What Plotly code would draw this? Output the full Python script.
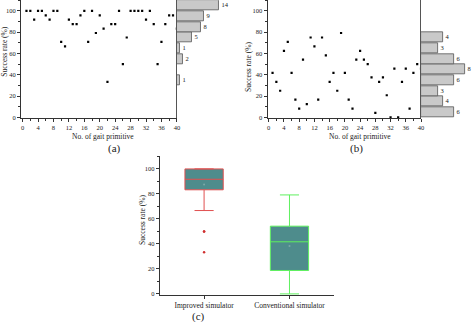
import numpy as np
import plotly.graph_objects as go

W, H = 474, 322

# ---------------- data ----------------
primitive_no = list(range(1, 41))
improved_rate = [100, 100, 91.7, 100, 100, 95.8, 91.7, 100, 100, 70.8,
                 66.7, 91.7, 87.5, 87.5, 95.8, 100, 70.8, 100, 79.2, 95.8,
                 83.3, 33.3, 87.5, 87.5, 100, 50, 75, 100, 100, 100,
                 100, 91.7, 100, 87.5, 50, 70.8, 87.5, 95.8, 95.8, 83.3]
conventional_rate = [41.7, 33.3, 25, 62.5, 70.8, 41.7, 16.7, 8.3, 54.2, 12.5,
                     75, 66.7, 16.7, 75, 58.3, 33.3, 41.7, 25, 79.2, 41.7,
                     16.7, 8.3, 54.2, 62.5, 54.2, 50, 37.5, 4.2, 33.3, 37.5,
                     20.8, 0, 45.8, 0, 33.3, 45.8, 8.3, 41.7, 50, 45.8]
bin_edges = [0, 10, 20, 30, 40, 50, 60, 70, 80, 90, 100, 110]
x_ticks = list(range(0, 41, 4))
y_ticks = list(range(0, 101, 20))
categories = ["Improved simulator", "Conventional simulator"]

# ---------------- helpers ----------------
def fx(px):
    return px / W

def fy(py):
    return 1 - py / H

FONT = "Liberation Serif"
AX = "#333333"
TICKF = dict(family=FONT, size=6.5, color="#222")

fig = go.Figure()

# scatter (a)
fig.add_trace(go.Scatter(x=primitive_no, y=improved_rate, mode="markers",
                         marker=dict(symbol="square", size=2.2, color="black"),
                         xaxis="x", yaxis="y", showlegend=False))
# scatter (b)
fig.add_trace(go.Scatter(x=primitive_no, y=conventional_rate, mode="markers",
                         marker=dict(symbol="square", size=2.2, color="black"),
                         xaxis="x3", yaxis="y3", showlegend=False))

# histograms
def hist_trace(values, xa, ya):
    counts, edges = np.histogram(values, bins=bin_edges)
    centers = [(edges[i] + edges[i + 1]) / 2 for i in range(len(counts))]
    ys = [c for c, n in zip(centers, counts) if n > 0]
    xs = [int(n) for n in counts if n > 0]
    return go.Bar(orientation="h", y=ys, x=xs, width=9.4,
                  marker=dict(color="#c9c9c9", line=dict(color="#555", width=0.8)),
                  text=[str(v) for v in xs], textposition="outside",
                  textfont=dict(family=FONT, size=6.5, color="#222"),
                  cliponaxis=False, xaxis=xa, yaxis=ya, showlegend=False)

fig.add_trace(hist_trace(improved_rate, "x2", "y2"))
fig.add_trace(hist_trace(conventional_rate, "x4", "y4"))

# box plots (c)
teal = "#4e8c8c"
fig.add_trace(go.Box(y=improved_rate, x=[categories[0]] * len(improved_rate),
                     fillcolor=teal, line=dict(color="#e05050", width=1),
                     marker=dict(color="#d03030", size=2.5),
                     boxpoints="outliers", whiskerwidth=0.5,
                     xaxis="x5", yaxis="y5", showlegend=False))
fig.add_trace(go.Box(y=conventional_rate, x=[categories[1]] * len(conventional_rate),
                     fillcolor=teal, line=dict(color="#5ef05e", width=1),
                     marker=dict(color="#5ef05e", size=2.5),
                     boxpoints="outliers", whiskerwidth=0.5,
                     xaxis="x5", yaxis="y5", showlegend=False))
# mean markers
fig.add_trace(go.Scatter(x=categories, y=[np.mean(improved_rate), np.mean(conventional_rate)],
                         mode="markers", marker=dict(size=2, color="#7aa8a8"),
                         xaxis="x5", yaxis="y5", showlegend=False, hoverinfo="skip"))

common_x = dict(showline=True, linecolor=AX, linewidth=1, ticks="outside", ticklen=3,
                tickcolor=AX, tickwidth=0.8, tickfont=TICKF, showgrid=False, zeroline=False,
                fixedrange=True)
common_y = dict(showline=True, linecolor=AX, linewidth=1, ticks="outside", ticklen=3,
                tickcolor=AX, tickwidth=0.8, tickfont=TICKF, showgrid=False, zeroline=False,
                fixedrange=True, range=[-1, 110], tickvals=y_ticks,
                minor=dict(ticks="outside", ticklen=2, dtick=10, tickcolor=AX, showgrid=False))

sc_y_dom = [fy(119.2), fy(0.2)]

layout = dict(
    width=W, height=H, margin=dict(l=0, r=0, t=0, b=0),
    paper_bgcolor="white", plot_bgcolor="white",
    font=dict(family=FONT, color="#222"),
    bargap=0,
    xaxis=dict(common_x, domain=[fx(21.2), fx(178)], range=[-0.4, 40], tickvals=x_ticks,
               minor=dict(ticks="outside", ticklen=2, dtick=2, tickcolor=AX, showgrid=False),
               anchor="y"),
    yaxis=dict(common_y, domain=sc_y_dom, anchor="x"),
    xaxis2=dict(domain=[fx(178), fx(226)], range=[0, 16], visible=False, anchor="y2",
                fixedrange=True),
    yaxis2=dict(domain=sc_y_dom, range=[-1, 110], showline=True, linecolor="#555", linewidth=1,
                showticklabels=False, ticks="", showgrid=False, zeroline=False, anchor="x2",
                fixedrange=True),
    xaxis3=dict(common_x, domain=[fx(269.3), fx(423.7)], range=[-0.3, 40], tickvals=x_ticks,
                minor=dict(ticks="outside", ticklen=2, dtick=2, tickcolor=AX, showgrid=False),
                anchor="y3"),
    yaxis3=dict(common_y, domain=sc_y_dom, anchor="x3"),
    xaxis4=dict(domain=[fx(423.7), fx(474)], range=[0, 9], visible=False, anchor="y4",
                fixedrange=True),
    yaxis4=dict(domain=sc_y_dom, range=[-1, 110], showline=True, linecolor="#555", linewidth=1,
                showticklabels=False, ticks="", showgrid=False, zeroline=False, anchor="x4",
                fixedrange=True),
    xaxis5=dict(common_x, domain=[fx(160.7), fx(336)], type="category", range=[-0.52, 1.52],
                categoryorder="array", categoryarray=categories,
                tickfont=dict(family=FONT, size=7.5, color="#222"), anchor="y5"),
    yaxis5=dict(common_y, domain=[fy(297), fy(157.4)], anchor="x5"),
    boxgap=0.36,
)
fig.update_layout(**layout)

def ann(text, x, y, size=7.5, angle=0):
    fig.add_annotation(text=text, x=fx(x), y=fy(y), xref="paper", yref="paper",
                       showarrow=False, textangle=angle, xanchor="center", yanchor="middle",
                       font=dict(family=FONT, size=size, color="#222"))

ann("Success rate (%)", 5, 52, 7.5, -90)
ann("No. of gait primitive", 104, 137.3)
ann("(a)", 115, 149.5, 11)
ann("Success rate (%)", 250, 67, 7.5, -90)
ann("No. of gait primitive", 362, 137.5)
ann("(b)", 358.7, 149.7, 11)
ann("Success rate (%)", 143.3, 221, 7.5, -90)
ann("(c)", 199.5, 318, 11)

fig.write_html("out.html")
